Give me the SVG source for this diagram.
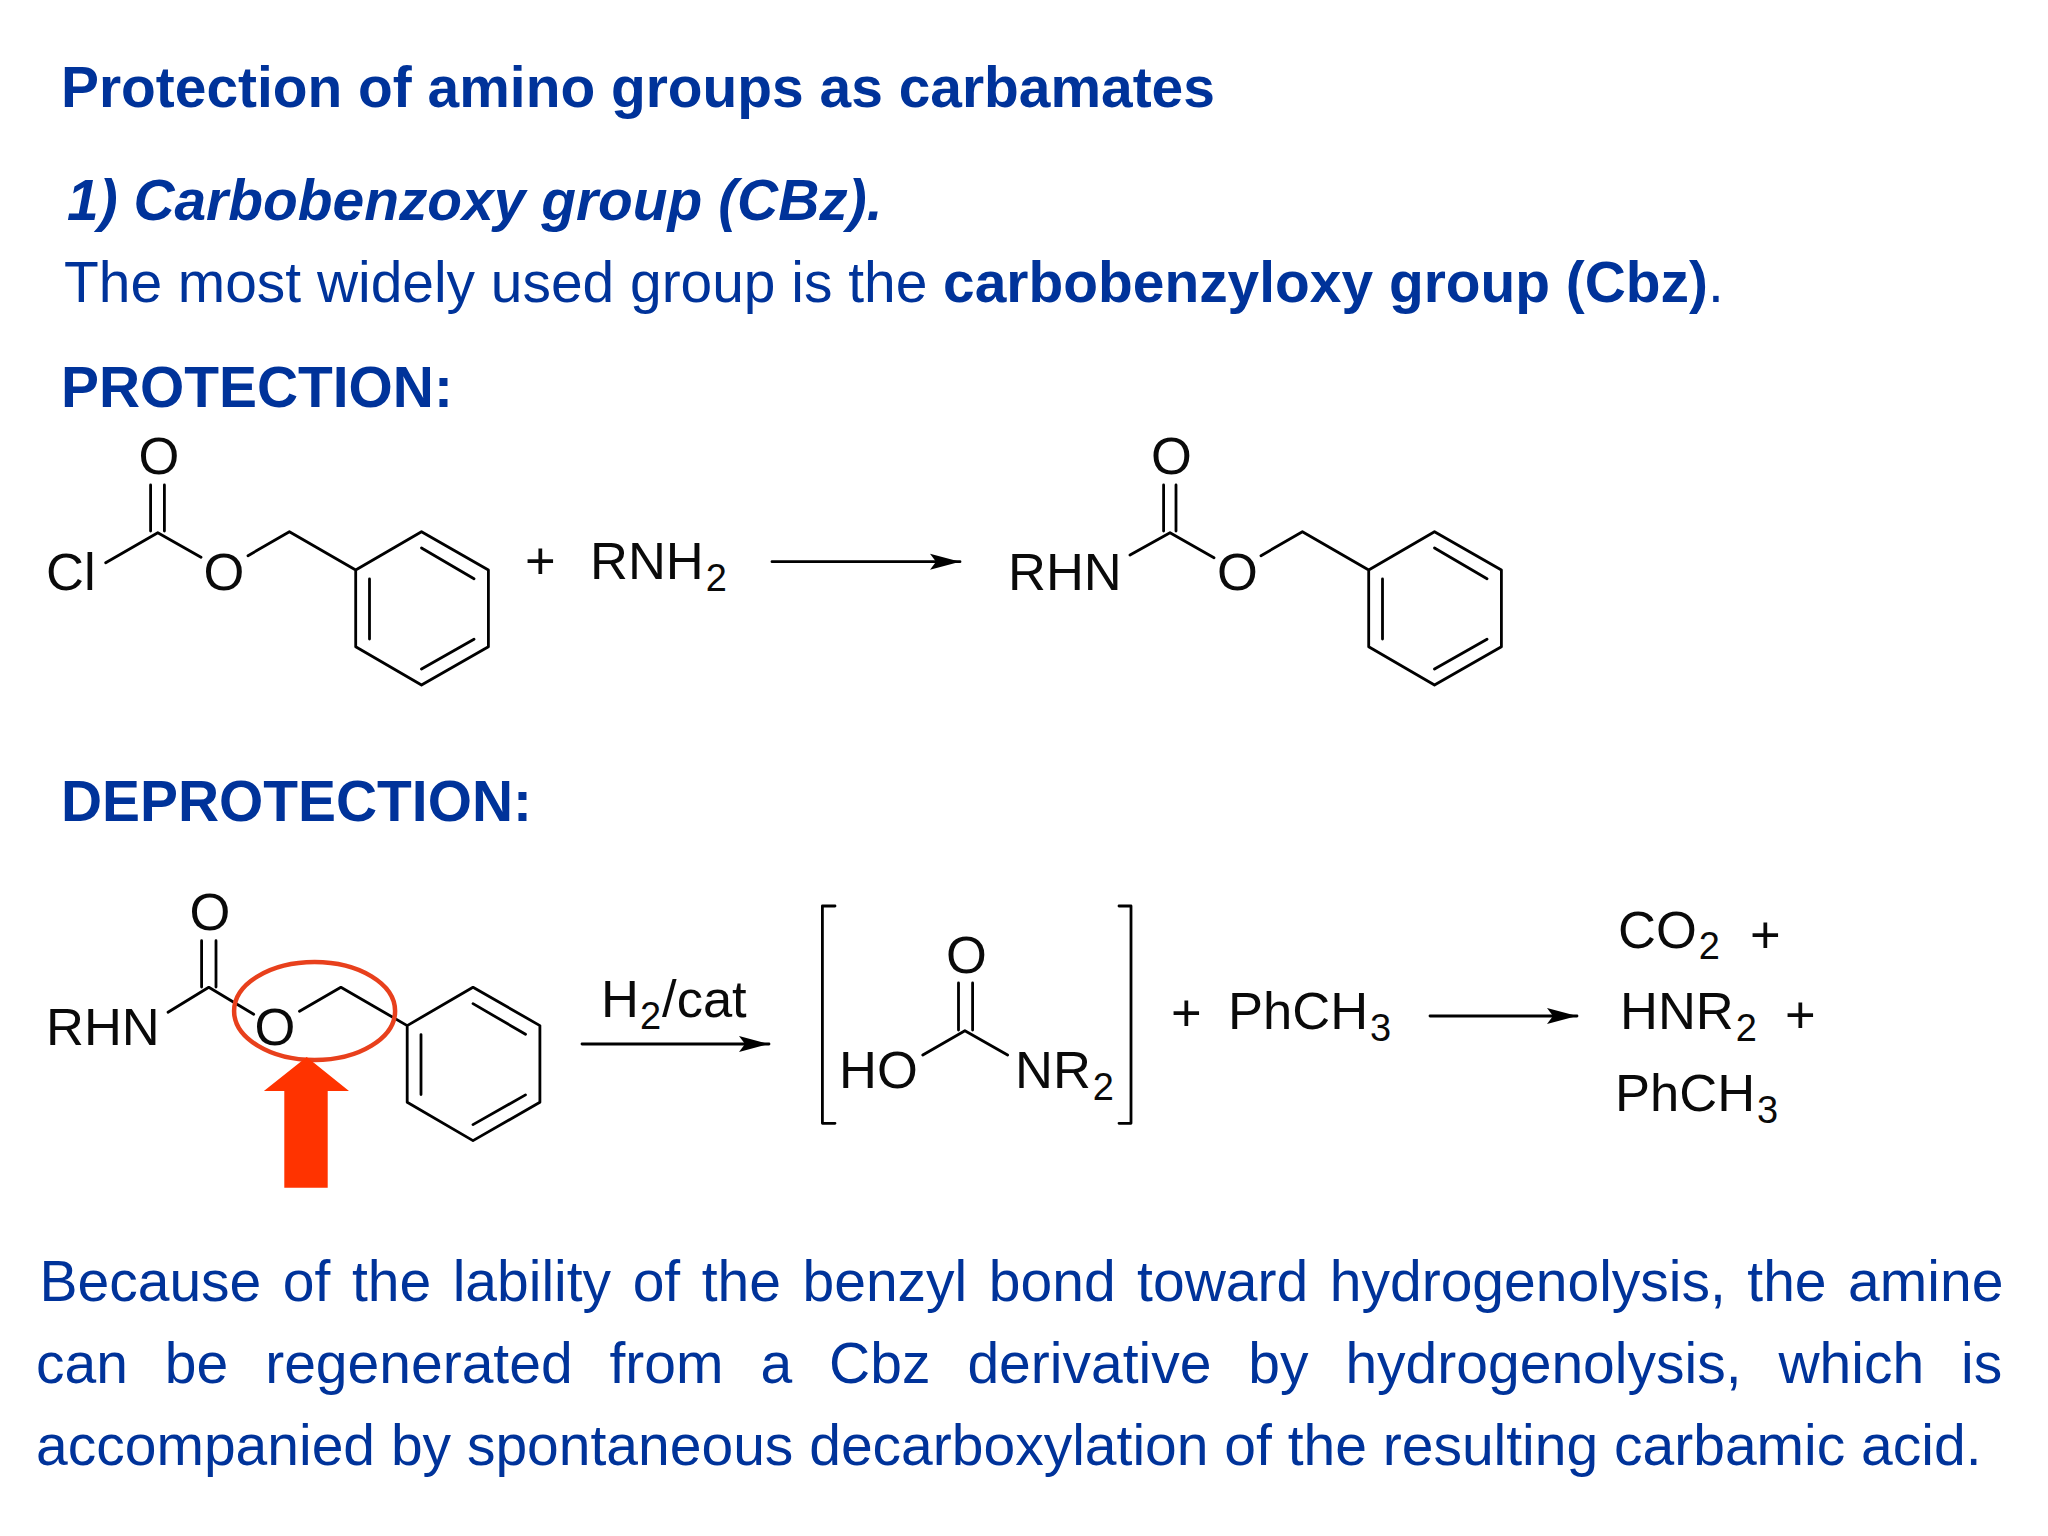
<svg xmlns="http://www.w3.org/2000/svg" width="2048" height="1536" viewBox="0 0 2048 1536">
<defs>
<style>
.b{stroke:#000;stroke-width:2.8;fill:none;stroke-linecap:round;stroke-linejoin:round}
.m{font-family:"Liberation Sans",Arial,sans-serif;font-size:52.500px;fill:#0a0a0a}
.s{font-size:38px}
.t{font-family:"Liberation Sans",Arial,sans-serif;fill:#00339a;font-size:56.900px}
.p{font-size:57px}
.h{font-weight:bold}
</style>
<marker id="ah" markerUnits="userSpaceOnUse" markerWidth="32" markerHeight="20" refX="30" refY="10" orient="auto"><path d="M0 2L30 10L0 18L6 10Z" fill="#000"/></marker>
<g id="benzyl"><path class="b" d="M90 24L131.400 0L197.700 38.300L263.500 0L330.400 38.300V115L263.500 153.300L197.700 115V38.300M263.500 16.300L316 47M211.500 47.300V107.300M263.500 137.300L316 107.600"/></g>
</defs>
<rect width="2048" height="1536" fill="#fff"/>
<g id="headings">
<text class="t h" x="61" y="106.700">Protection of amino groups as carbamates</text>
<text class="t h" x="67" y="220" font-style="italic">1) Carbobenzoxy group (CBz).</text>
<text class="t" x="64" y="301.700">The most widely used group is the <tspan class="h">carbobenzyloxy group (Cbz)</tspan>.</text>
<text class="t h" x="61" y="406.700">PROTECTION:</text>
<text class="t h" x="61" y="821">DEPROTECTION:</text>
</g>
<g id="connectors">
<line class="b" x1="772" y1="561.700" x2="960" y2="561.700" marker-end="url(#ah)"/>
<line class="b" x1="582" y1="1044" x2="769" y2="1044" marker-end="url(#ah)"/>
<line class="b" x1="1430" y1="1016" x2="1577" y2="1016" marker-end="url(#ah)"/>
</g>
<g id="benzyl-chloroformate">
<use href="#benzyl" x="158" y="531.700"/>
<path class="b" d="M105.700 562.700L157.800 532.700L201 557.300M150.600 485V531M164.400 485V531"/>
<text class="m" x="158.800" y="474" text-anchor="middle">O</text>
<text class="m" x="46" y="590">Cl</text>
<text class="m" x="224" y="590" text-anchor="middle">O</text>
</g>
<g id="amine">
<text class="m" x="525" y="579">+</text>
<text class="m" x="590" y="579">RNH<tspan class="s" dx="2" dy="12">2</tspan></text>
</g>
<g id="cbz-amine">
<use href="#benzyl" x="1171" y="531.700"/>
<path class="b" d="M1130 555L1170 532.700L1214 557.700M1163.600 485V531M1176 485V531"/>
<text class="m" x="1171.500" y="474" text-anchor="middle">O</text>
<text class="m" x="1008" y="590">RHN</text>
<text class="m" x="1237.500" y="590" text-anchor="middle">O</text>
</g>
<g id="cbz-substrate">
<use href="#benzyl" x="209.500" y="987.300"/>
<path class="b" d="M168 1012.300L208.800 987.300L253.700 1014.300M201.600 940.700V987M216 940.700V987"/>
<text class="m" x="209.800" y="930" text-anchor="middle">O</text>
<text class="m" x="46" y="1045">RHN</text>
<text class="m" x="275" y="1045" text-anchor="middle">O</text>
</g>
<g id="cleavage-mark">
<ellipse cx="314.600" cy="1011" rx="80.500" ry="49" fill="none" stroke="#e8401c" stroke-width="4.500"/>
<path d="M306.700 1057L349 1091H327.700V1187.700H284.300V1091H263.900Z" fill="#ff3300"/>
</g>
<g id="h2-cat"><text class="m" x="601" y="1017">H<tspan class="s" dx="1" dy="12">2</tspan><tspan dx="1" dy="-12">/cat</tspan></text></g>
<g id="carbamic-acid">
<path class="b" d="M835 906H822.400V1123.300H835M1119 906H1131V1123.300H1119"/>
<path class="b" d="M922.800 1055L964.900 1030.700L1007.600 1055M958.500 983V1030M972.600 983V1030"/>
<text class="m" x="966.300" y="973" text-anchor="middle">O</text>
<text class="m" x="839" y="1088">HO</text>
<text class="m" x="1015" y="1088">NR<tspan class="s" dx="2" dy="12">2</tspan></text>
</g>
<g id="toluene-1">
<text class="m" x="1171" y="1031">+</text>
<text class="m" x="1228" y="1029.300">PhCH<tspan class="s" dx="2" dy="12">3</tspan></text>
</g>
<g id="products">
<text class="m" x="1618" y="948.300">CO<tspan class="s" dx="2" dy="11">2</tspan></text>
<text class="m" x="1750" y="952.500">+</text>
<text class="m" x="1620" y="1029.300">HNR<tspan class="s" dx="2" dy="12">2</tspan></text>
<text class="m" x="1785" y="1032.500">+</text>
<text class="m" x="1615" y="1110.700">PhCH<tspan class="s" dx="2" dy="12">3</tspan></text>
</g>
<g id="paragraph">
<text class="t p" x="39.500" y="1300.700" word-spacing="5.700">Because of the lability of the benzyl bond toward hydrogenolysis, the amine</text>
<text class="t p" x="36" y="1383" word-spacing="21.100">can be regenerated from a Cbz derivative by hydrogenolysis, which is</text>
<text class="t p" x="36" y="1464.700">accompanied by spontaneous decarboxylation of the resulting carbamic acid.</text>
</g>
</svg>
